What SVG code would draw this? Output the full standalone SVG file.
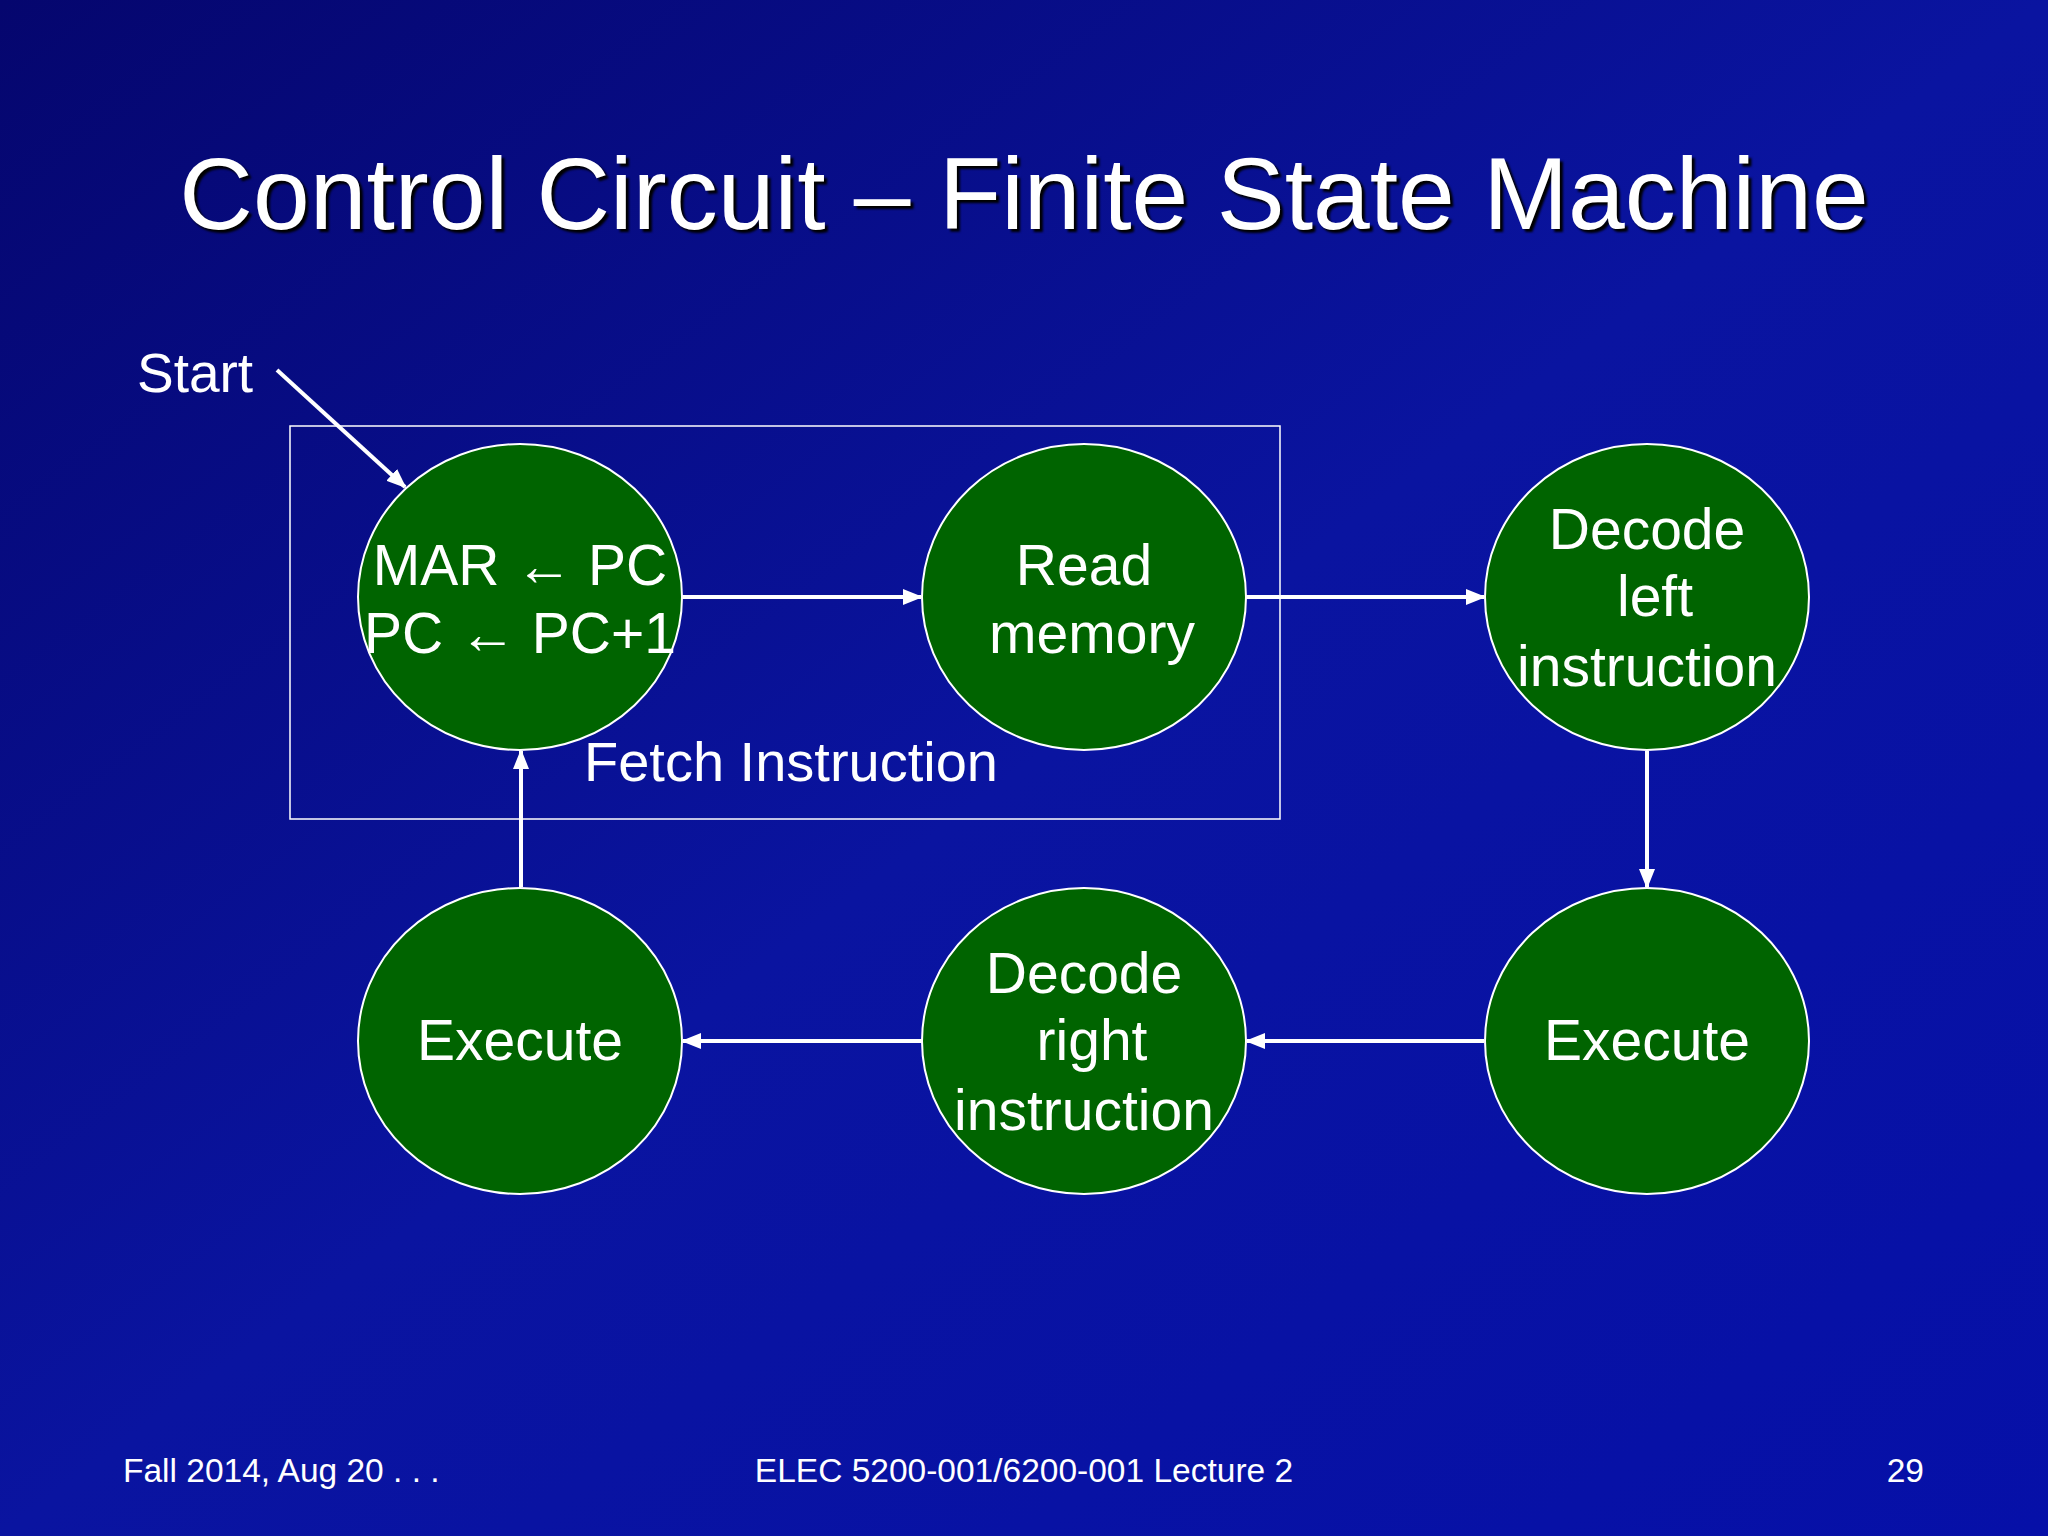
<svg xmlns="http://www.w3.org/2000/svg" width="2048" height="1536" viewBox="0 0 2048 1536">
<defs>
<linearGradient id="bg" x1="0" y1="0" x2="1" y2="1">
<stop offset="0" stop-color="#05066e"/>
<stop offset="0.5" stop-color="#0a14a0"/>
<stop offset="1" stop-color="#0610a8"/>
</linearGradient>
<marker id="ah" viewBox="0 0 10 10" refX="9" refY="5" markerWidth="5" markerHeight="5" orient="auto" markerUnits="strokeWidth">
<path d="M0,1 L10,5 L0,9 z" fill="#fff"/>
</marker>
<style>
text{font-family:"Liberation Sans",Arial,sans-serif;fill:#fff}
.n{font-size:57px;text-anchor:middle}
ellipse{fill:#006400;stroke:#fff;stroke-width:2}
.c line{stroke:#fff;stroke-width:4;marker-end:url(#ah)}
.f{font-size:33.5px}
</style>
</defs>
<rect width="2048" height="1536" fill="url(#bg)"/>
<text x="1024" y="229" font-size="102" text-anchor="middle" style="filter:drop-shadow(3px 3px 1px #000)">Control Circuit – Finite State Machine</text>
<text x="137" y="392" font-size="55">Start</text>
<rect x="290" y="426" width="990" height="393" fill="none" stroke="#fff" stroke-width="1.5"/>
<text x="584" y="781" font-size="56">Fetch Instruction</text>
<g id="n1"><ellipse cx="520" cy="597" rx="162" ry="153"/><text class="n" x="520" y="585">MAR ← PC</text><text class="n" x="520" y="653">PC ← PC+1</text></g>
<g id="n2"><ellipse cx="1084" cy="597" rx="162" ry="153"/><text class="n" x="1084" y="585">Read</text><text class="n" x="1092" y="653">memory</text></g>
<g id="n3"><ellipse cx="1647" cy="597" rx="162" ry="153"/><text class="n" x="1647" y="549">Decode</text><text class="n" x="1655" y="616">left</text><text class="n" x="1647" y="686">instruction</text></g>
<g id="n4"><ellipse cx="1647" cy="1041" rx="162" ry="153"/><text class="n" x="1647" y="1060">Execute</text></g>
<g id="n5"><ellipse cx="1084" cy="1041" rx="162" ry="153"/><text class="n" x="1084" y="993">Decode</text><text class="n" x="1092" y="1060">right</text><text class="n" x="1084" y="1130">instruction</text></g>
<g id="n6"><ellipse cx="520" cy="1041" rx="162" ry="153"/><text class="n" x="520" y="1060">Execute</text></g>
<g class="c" id="connectors">
<line x1="277" y1="370" x2="405" y2="487"/>
<line x1="682" y1="597" x2="921" y2="597"/>
<line x1="1245" y1="597" x2="1484" y2="597"/>
<line x1="1647" y1="751" x2="1647" y2="887"/>
<line x1="1484" y1="1041" x2="1247" y2="1041"/>
<line x1="922" y1="1041" x2="683" y2="1041"/>
<line x1="521" y1="887" x2="521" y2="751"/>
</g>
<text class="f" x="123" y="1482">Fall 2014, Aug 20 . . .</text>
<text class="f" x="1024" y="1482" text-anchor="middle">ELEC 5200-001/6200-001 Lecture 2</text>
<text class="f" x="1924" y="1482" text-anchor="end">29</text>
</svg>
